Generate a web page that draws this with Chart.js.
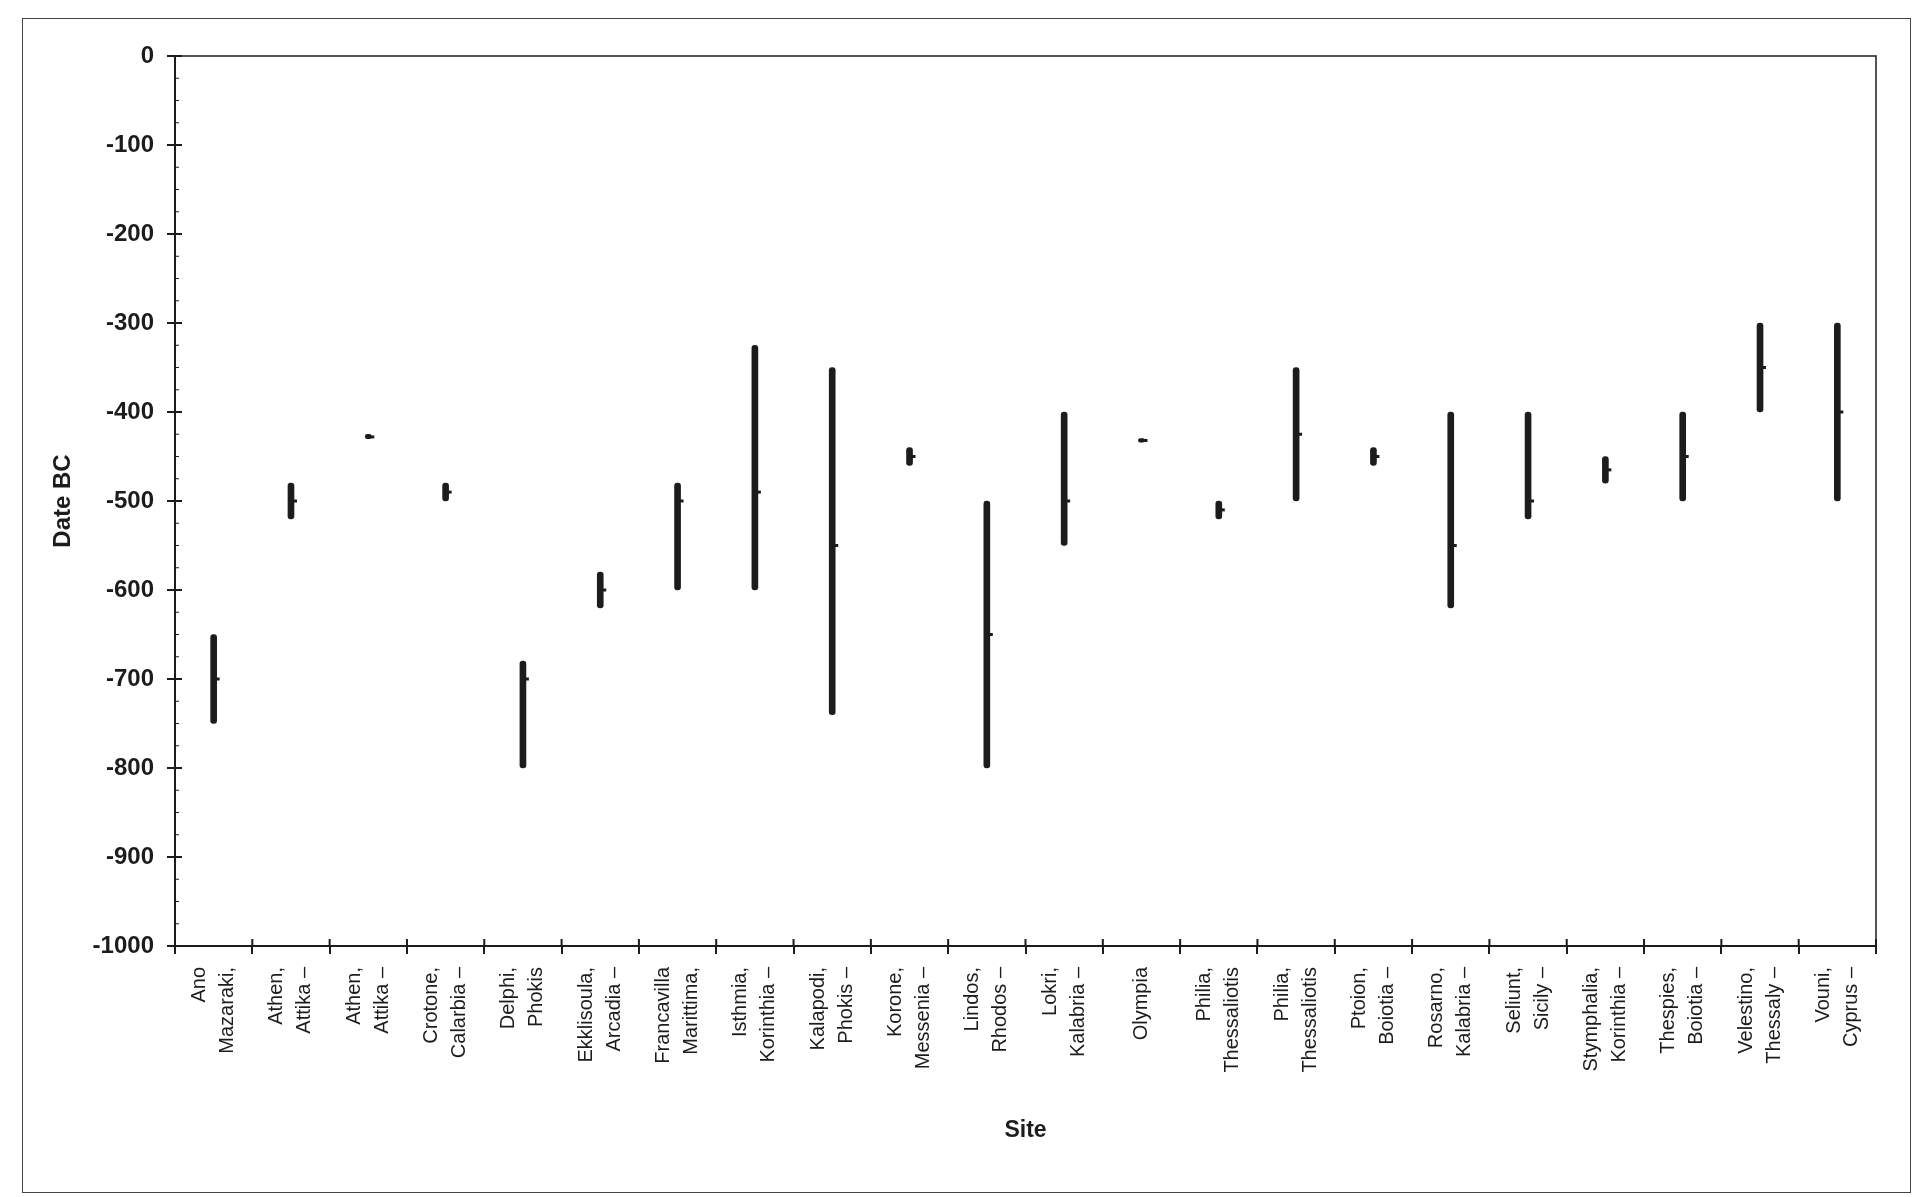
<!DOCTYPE html>
<html>
<head>
<meta charset="utf-8">
<title>Date ranges by site</title>
<script src="https://cdn.jsdelivr.net/npm/chart.js"></script>
<style>
  html, body { margin: 0; padding: 0; background: #fff; }
  #frame {
    position: absolute; left: 22px; top: 18px;
    width: 1889px; height: 1175px;
    border: 1.5px solid #444; box-sizing: border-box;
  }
</style>
</head>
<body>
<div id="frame"><canvas id="siteChart"></canvas></div>
<script>
// sites (x categories), two-line labels as in the original
const sites = [
  ['Ano', 'Mazaraki,'], ['Athen,', 'Attika –'], ['Athen,', 'Attika –'],
  ['Crotone,', 'Calarbia –'], ['Delphi,', 'Phokis'], ['Ekklisoula,', 'Arcadia –'],
  ['Francavilla', 'Marittima,'], ['Isthmia,', 'Korinthia –'], ['Kalapodi,', 'Phokis –'],
  ['Korone,', 'Messenia –'], ['Lindos,', 'Rhodos –'], ['Lokri,', 'Kalabria –'],
  'Olympia', ['Philia,', 'Thessaliotis'], ['Philia,', 'Thessaliotis'],
  ['Ptoion,', 'Boiotia –'], ['Rosarno,', 'Kalabria –'], ['Seliunt,', 'Sicily –'],
  ['Stymphalia,', 'Korinthia –'], ['Thespies,', 'Boiotia –'], ['Velestino,', 'Thessaly –'],
  ['Vouni,', 'Cyprus –']
];

// earliest date, latest date, and the mid mark (years, negative = BC)
const earliest = [-750, -520, -430, -500, -800, -620, -600, -600, -740, -460, -800,
  -550, -434, -520, -500, -460, -620, -520, -480, -500, -400, -500];
const latest = [-650, -480, -425, -480, -680, -580, -480, -325, -350, -440, -500,
  -400, -430, -500, -350, -440, -400, -400, -450, -400, -300, -300];
const middle = [-700, -500, -428, -490, -700, -600, -500, -490, -550, -450, -650,
  -500, -432, -510, -425, -450, -550, -500, -465, -450, -350, -400];

const yTicks = [0, -100, -200, -300, -400, -500, -600, -700, -800, -900, -1000];

const ink = '#1c1c1c';
const labelLine = 28;

// top/right border, inner halves of ticks and the small y minor ticks
const axisExtras = {
  id: 'axisExtras',
  beforeDraw(chart) {
    // centre single-line x labels (two-line ones are shifted by labelOffset)
    chart.scales.x.getLabelItems().forEach(it => {
      if (!Array.isArray(it.label) && !it._moved) {
        it.options.translation[0] += labelLine / 2;
        it._moved = true;
      }
    });
  },
  afterDraw(chart) {
    const { ctx, chartArea: a, scales: { x, y } } = chart;
    ctx.save();
    ctx.strokeStyle = ink;
    ctx.lineWidth = 1.5;
    ctx.beginPath();
    ctx.moveTo(a.left, a.top); ctx.lineTo(a.right, a.top); ctx.lineTo(a.right, a.bottom);
    ctx.stroke();

    ctx.lineWidth = 2;
    ctx.beginPath();
    yTicks.forEach(v => {
      const py = y.getPixelForValue(v);
      ctx.moveTo(a.left, py); ctx.lineTo(a.left + 7, py);
    });
    for (let i = 0; i <= sites.length; i++) {
      const px = x.getPixelForValue(i - 0.5);
      ctx.moveTo(px, a.bottom); ctx.lineTo(px, a.bottom - 7);
    }
    ctx.stroke();

    ctx.lineWidth = 1.2;
    ctx.beginPath();
    for (let v = 0; v >= -1000; v -= 25) {
      if (v % 100 === 0) continue;
      const py = y.getPixelForValue(v);
      ctx.moveTo(a.left, py); ctx.lineTo(a.left + 4, py);
    }
    ctx.stroke();
    ctx.restore();
  }
};

const ranges = earliest.map((v, i) => [v, latest[i]]);

new Chart(document.getElementById('siteChart'), {
  type: 'bar',
  data: {
    labels: sites,
    datasets: [{
      label: 'Date range',
      data: ranges,
      backgroundColor: ink,
      borderWidth: 0,
      borderSkipped: false,
      borderRadius: 3,
      barThickness: 6,
      order: 2
    }, {
      type: 'line',
      label: 'Mid date',
      data: middle,
      showLine: false,
      pointStyle: 'dash',
      pointRadius: 6,
      pointBorderWidth: 3,
      pointBorderColor: ink,
      order: 1
    }]
  },
  options: {
    responsive: true,
    maintainAspectRatio: false,
    animation: false,
    layout: { padding: { top: 37, right: 34, left: 0, bottom: 0 } },
    plugins: { legend: { display: false }, tooltip: { enabled: false } },
    scales: {
      x: {
        offset: true,
        afterFit: s => { s.height = 246; },
        grid: { offset: true, drawOnChartArea: false, tickLength: 8, color: ink, lineWidth: 2 },
        border: { color: ink, width: 2 },
        ticks: {
          autoSkip: false, minRotation: 90, maxRotation: 90,
          padding: 13, labelOffset: -labelLine / 2, color: ink,
          font: { family: 'Liberation Sans, Arial, sans-serif', size: 20, lineHeight: labelLine + 'px' }
        },
        title: {
          display: true, text: 'Site', color: ink,
          padding: { top: 0, bottom: 48 },
          font: { family: 'Liberation Sans, Arial, sans-serif', size: 23, weight: 'bold' }
        }
      },
      y: {
        min: -1000, max: 0,
        afterFit: s => { s.width = 152; },
        afterBuildTicks: s => { s.ticks = yTicks.map(v => ({ value: v })); },
        grid: { drawOnChartArea: false, tickLength: 8, color: ink, lineWidth: 2 },
        border: { color: ink, width: 2 },
        ticks: {
          padding: 13, color: ink,
          callback: v => String(v),
          font: { family: 'Liberation Sans, Arial, sans-serif', size: 24, weight: 'bold' }
        },
        title: {
          display: true, text: 'Date BC', color: ink,
          padding: { top: 26, bottom: 0 },
          font: { family: 'Liberation Sans, Arial, sans-serif', size: 24, weight: 'bold' }
        }
      }
    }
  },
  plugins: [axisExtras]
});
</script>
</body>
</html>
